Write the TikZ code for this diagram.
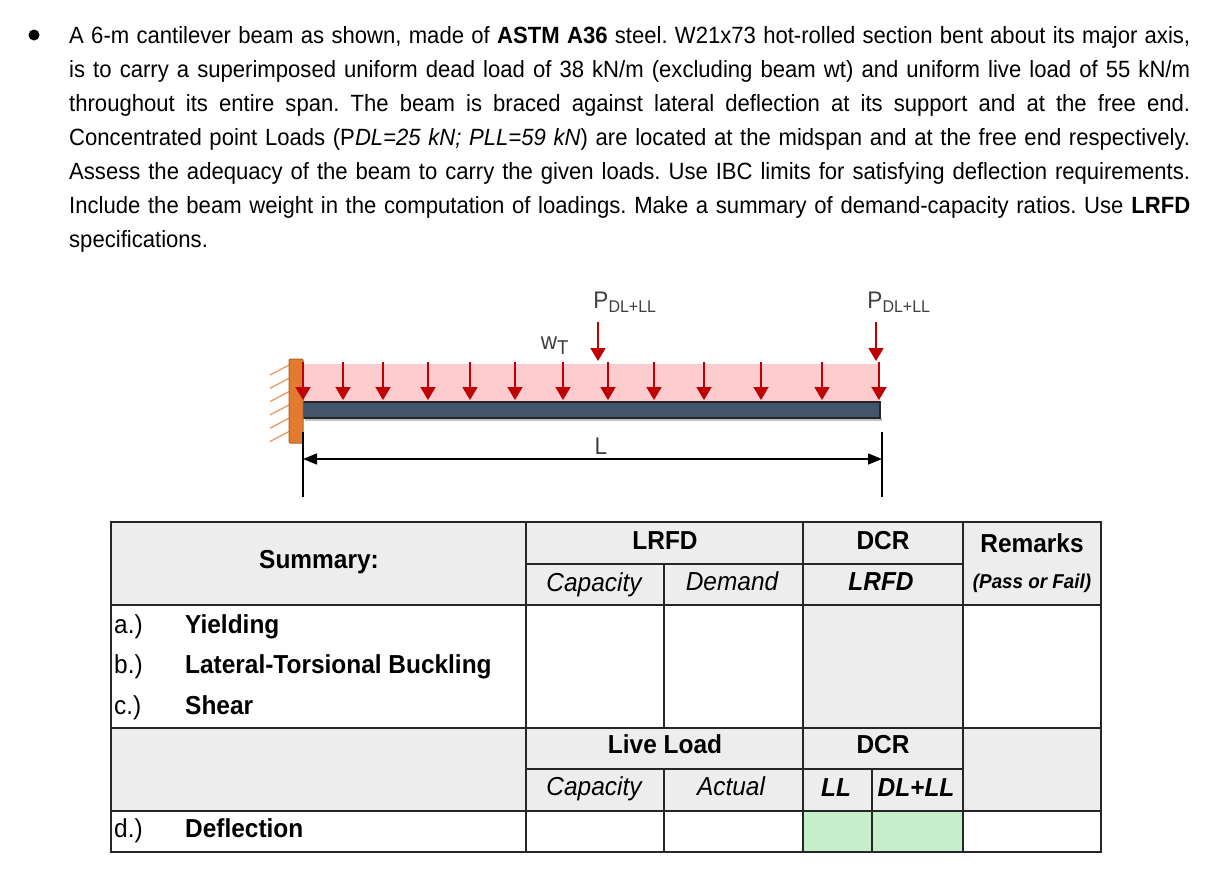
\documentclass[tikz,border=0pt]{standalone}
\usepackage{fontspec}
\setmainfont[FakeStretch=0.94]{Liberation Sans}
\usepackage{xcolor}
\usetikzlibrary{arrows.meta}
\definecolor{beamBlue}{RGB}{68,84,106}
\definecolor{loadRed}{RGB}{192,0,0}
\definecolor{loadPink}{RGB}{254,204,206}
\definecolor{plateOrange}{RGB}{226,122,48}
\definecolor{plateBrown}{RGB}{170,100,40}
\definecolor{cellGray}{RGB}{237,237,237}
\definecolor{cellGreen}{RGB}{197,238,203}
\definecolor{inkGray}{RGB}{64,64,64}
\tikzset{
  loadarrow/.style={line width=1.8pt, loadRed, -{Triangle[length=13pt,width=15pt]}},
  dimarrow/.style={line width=1.4pt, {Triangle[length=14pt,width=11pt]}-{Triangle[length=14pt,width=11pt]}},
  gridline/.style={line width=2pt, black!85},
  bodytext/.style={inner sep=0pt, anchor=north west, text width=1121pt, align=justify, font=\fontsize{23.5}{34}\selectfont\frenchspacing},
  rowlabel/.style={inner sep=0pt, anchor=base west, font=\fontsize{26}{30}\selectfont\bfseries},
  headbold/.style={inner sep=0pt, anchor=base, font=\fontsize{26}{30}\selectfont\bfseries},
  headital/.style={inner sep=0pt, anchor=base, font=\fontsize{26}{30}\selectfont\itshape},
  headboth/.style={inner sep=0pt, anchor=base, font=\fontsize{26}{30}\selectfont\bfseries\itshape},
  loadlabel/.style={inner sep=0pt, inkGray, font=\fontsize{24}{28}\selectfont}
}
\newcommand{\pload}{P\textsubscript{\fontsize{17}{18}\selectfont DL+LL}}
\begin{document}
\begin{tikzpicture}[x=1pt,y=-1pt]
  \useasboundingbox (0,0) rectangle (1209,868);
  % problem statement
  \fill (34,35) circle (5.5);
  \node[bodytext] (statement) at (69,26) {A 6-m cantilever beam as shown, made of \textbf{ASTM A36} steel. W21x73 hot-rolled section bent about its major axis,\linebreak
    is to carry a superimposed uniform dead load of 38 kN/m (excluding beam wt) and uniform live load of 55 kN/m\linebreak
    throughout its entire span. The beam is braced against lateral deflection at its support and at the free end.\linebreak
    Concentrated point Loads (P\textit{DL=25 kN; PLL=59 kN}) are located at the midspan and at the free end respectively.\linebreak
    Assess the adequacy of the beam to carry the given loads. Use IBC limits for satisfying deflection requirements.\linebreak
    Include the beam weight in the computation of loadings. Make a summary of demand-capacity ratios. Use \textbf{LRFD}\linebreak
    specifications.\par};
  % beam
  \fill [loadPink] (303,364) rectangle (880,402);
  \fill [black!25] (305,418) rectangle (882,421);
  \filldraw [beamBlue, draw=black!85, line width=1.4pt] (303,402) rectangle (880,418);
  \foreach \hy in {375,388.3,401.6,414.9,428.2,441.5}
    \draw [plateOrange!80, line width=1.2pt] (270,\hy) -- (289,\hy-10);
  \filldraw [plateOrange, draw=plateBrown, line width=1pt, rounded corners=1pt] (289,359) rectangle (303,443);
  % loads
  \foreach \ax in {303,343,383,428,470,515,563,608,654,704,761,822,879}
    \draw [loadarrow] (\ax,362) -- (\ax,400);
  \coordinate (midtop) at (598,322);
  \coordinate (midend) at (598,361);
  \coordinate (endtop) at (876,322);
  \coordinate (endend) at (876,361);
  \draw [loadarrow] (midtop) -- (midend);
  \draw [loadarrow] (endtop) -- (endend);
  \node[loadlabel] (pmid) at (625,302) {\pload};
  \node[loadlabel] (pend) at (899,302) {\pload};
  \node[loadlabel] (wtotal) at (555,346) {w\textsubscript{\fontsize{20}{22}\selectfont T}};
  % span
  \coordinate (spana) at (303,459);
  \coordinate (spanb) at (882,459);
  \draw [line width=1.4pt] (303,432) -- (303,497);
  \draw [line width=1.4pt] (882,432) -- (882,497);
  \draw [dimarrow] (spana) -- (spanb);
  \node[loadlabel] (span) at (601,446) {L};
  % table fills
  \fill [cellGray] (111,522) rectangle (1101,605);
  \fill [cellGray] (803,605) rectangle (963,728);
  \fill [cellGray] (111,728) rectangle (1101,811);
  \fill [cellGreen] (803,811) rectangle (963,852);
  % table grid
  \draw [gridline, line width=2.6pt] (111,522) rectangle (1101,852);
  \foreach \gy in {605,728,811}
    \draw [gridline] (111,\gy) -- (1101,\gy);
  \foreach \gy in {564,769}
    \draw [gridline] (526,\gy) -- (963,\gy);
  \foreach \gx in {526,803,963}
    \draw [gridline] (\gx,522) -- (\gx,852);
  \draw [gridline] (664,564) -- (664,728);
  \draw [gridline] (664,769) -- (664,852);
  \draw [gridline] (872,769) -- (872,852);
  % table text
  \node[headbold] (summary) at (319,568) {Summary:};
  \node[headbold] (lrfd) at (665,549) {LRFD};
  \node[headbold] (dcra) at (883,549) {DCR};
  \node[headbold] (remarks) at (1032,552) {Remarks};
  \node[headital] (capa) at (594,591) {Capacity};
  \node[headital] (demand) at (732,590) {Demand};
  \node[headboth] (lrfdb) at (881,590) {LRFD};
  \node[headboth, font=\fontsize{20}{24}\selectfont\bfseries\itshape] (pass) at (1032,588) {(Pass or Fail)};
  \node[headbold] (live) at (665,753) {Live Load};
  \node[headbold] (dcrb) at (883,753) {DCR};
  \node[headital] (capb) at (594,795) {Capacity};
  \node[headital] (actual) at (731,795) {Actual};
  \node[headboth] (ll) at (836,796) {LL};
  \node[headboth] (dlll) at (916,796) {DL+LL};
  \foreach \rowname/\rowy/\rowtag/\rowtext in {rowa/633/a.)/Yielding, rowb/673/b.)/Lateral-Torsional Buckling, rowc/714/c.)/Shear, rowd/837/d.)/Deflection} {
    \node[rowlabel, font=\fontsize{26}{30}\selectfont] (\rowname tag) at (114,\rowy) {\rowtag};
    \node[rowlabel] (\rowname) at (185,\rowy) {\rowtext};
  }
\end{tikzpicture}
\end{document}
